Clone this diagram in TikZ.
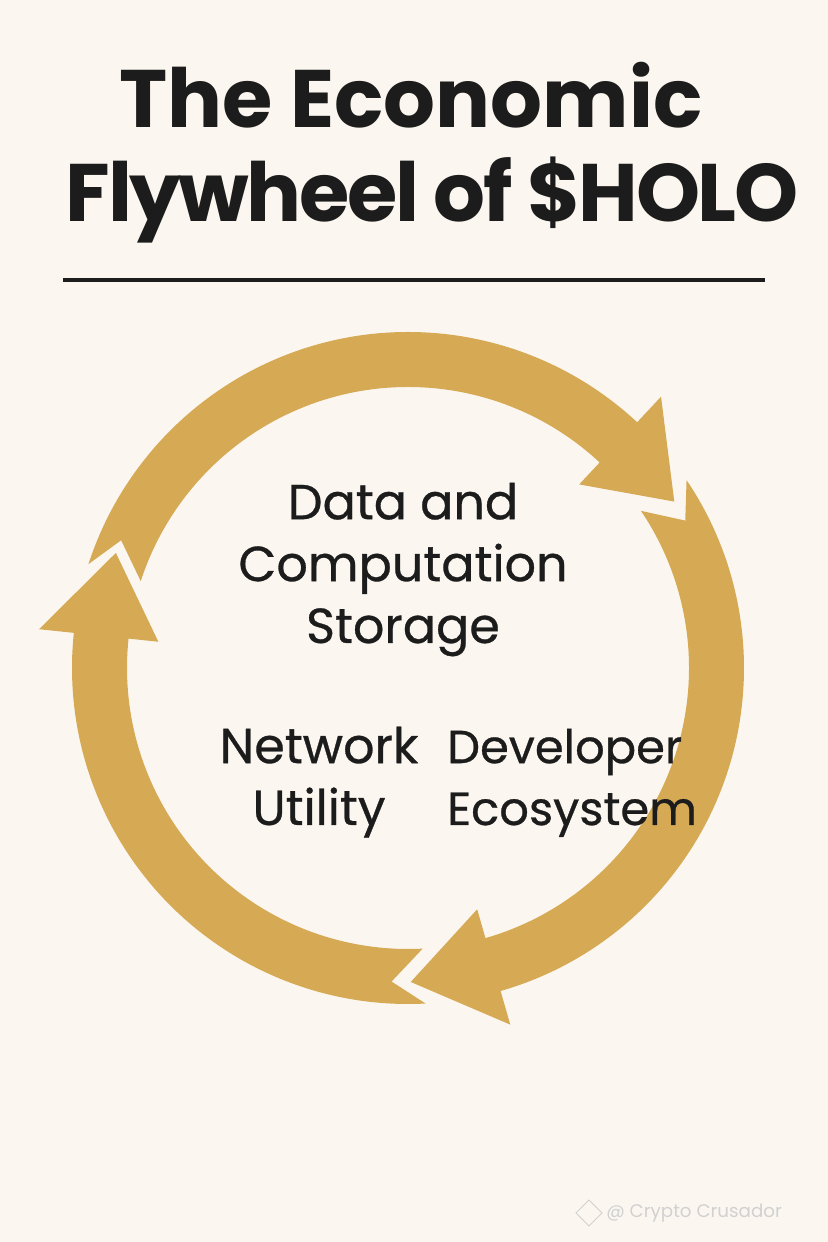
\documentclass[tikz,border=0pt]{standalone}
\usepackage{fontspec}
\setmainfont{Poppins}
\definecolor{gold}{HTML}{D6AA54}
\definecolor{paper}{HTML}{FBF7F0}
\definecolor{ink}{HTML}{1C1C1C}

% tail angle, head base angle, tip angle, tail notch angle
\newcommand{\wheelarrow}[4]{%
  \fill[gold] (#1:336) arc[start angle=#1, end angle=#2, radius=336]
    -- (#2:371) -- (#3:314) -- (#2:251) -- (#2:281)
    arc[start angle=#2, end angle=#1, radius=281] -- (#4:314) -- cycle;}

\begin{document}
\begin{tikzpicture}[x=0.025cm, y=0.025cm,
  heading/.style={font=\fontsize{58}{70}\selectfont\bfseries, text=ink, inner sep=0pt, anchor=base},
  label/.style={font=\fontsize{35}{44}\selectfont\addfontfeature{FakeBold=0.6}, text=ink, inner sep=0pt, anchor=base},
  stamp/.style={text=black!18, font=\fontsize{13}{15}\selectfont, inner sep=0pt}]
  \fill[paper] (0,0) rectangle (828,1242);

  \node[heading] (title1) at (411,1114) {The Economic};
  \node[heading] (title2) at (432,1020) {\addfontfeature{LetterSpace=-3}Flywheel of \$HOLO};
  \draw[ink, line width=2.2pt] (63,962) -- (765,962);

  \begin{scope}[shift={(408,574)}]
    \wheelarrow{162}{47}{32}{156}
    \wheelarrow{34}{-74}{-89.5}{28}
    \wheelarrow{-87}{-186}{-201.5}{-93}
  \end{scope}

  \node[label, align=center] (data) at (403,599) {Data and\\Computation\\Storage};
  \node[label, align=center] (network) at (319,417) {Network\\Utility};
  \node[label, align=left, anchor=base west, font=\fontsize{33}{44}\selectfont\addfontfeature{FakeBold=0.6}] (developer) at (447,417) {Developer\\Ecosystem};

  \draw[black!18, line width=0.6pt] (589,29) +(-13,0) -- +(0,13) -- +(13,0) -- +(0,-13) -- cycle;
  \node[stamp, anchor=base west] (credit) at (606,24) {@ Crypto Crusador};
\end{tikzpicture}
\end{document}
